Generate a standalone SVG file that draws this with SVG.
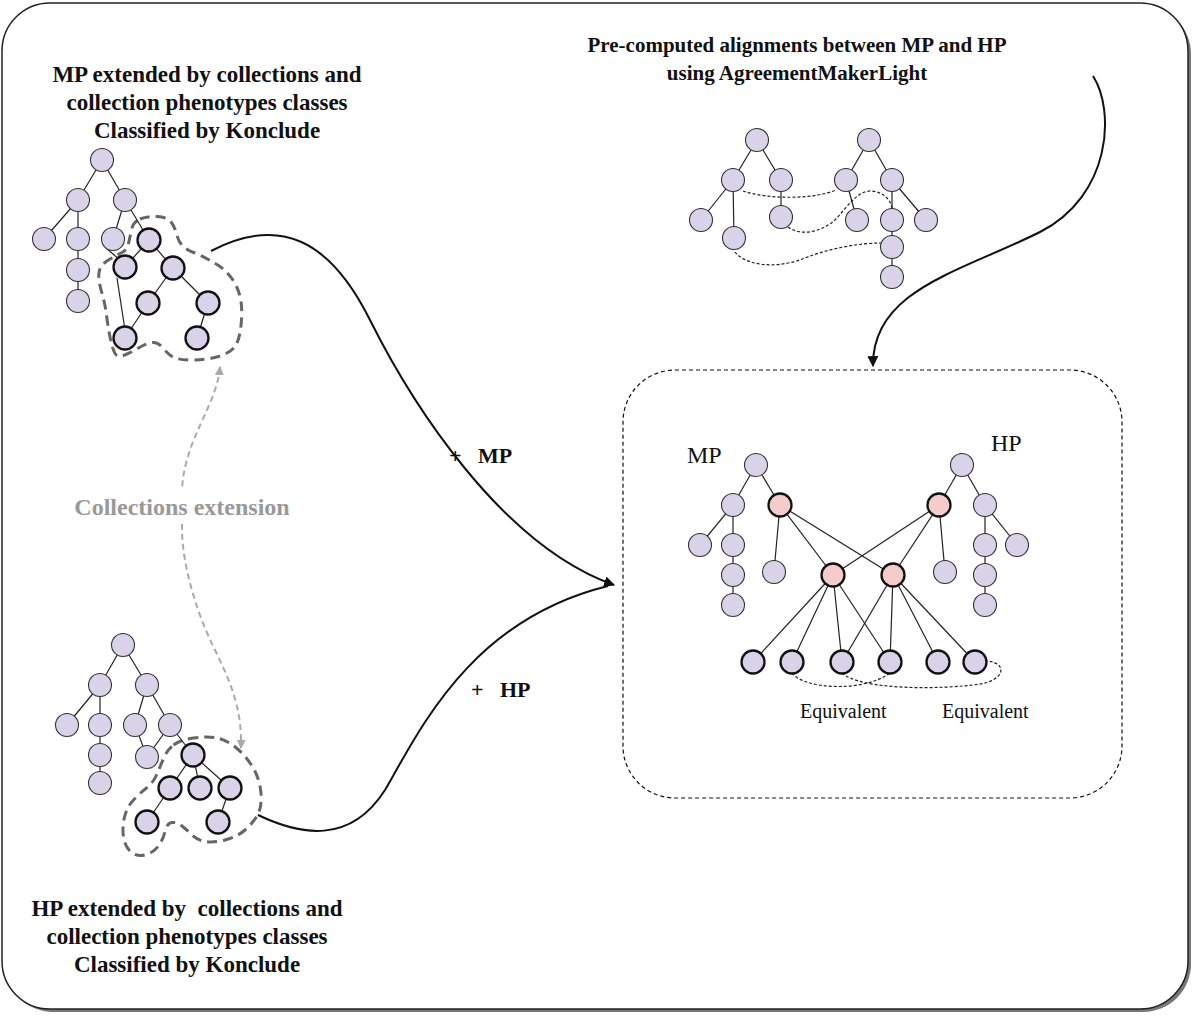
<svg xmlns="http://www.w3.org/2000/svg" width="1200" height="1019" viewBox="0 0 1200 1019">
<defs>
<style>
.n{fill:#d9d2e9;stroke:#333;stroke-width:1.1}
.b{fill:#d9d2e9;stroke:#111;stroke-width:2.3}
.p{fill:#f4cccc;stroke:#111;stroke-width:2.3}
.e{stroke:#222;stroke-width:1.2;fill:none}
.dot{stroke:#222;stroke-width:1.2;fill:none;stroke-dasharray:3 2}
.blob{stroke:#666;stroke-width:3;fill:none;stroke-dasharray:10 6}
.t{font-family:"Liberation Serif",serif;font-weight:bold;font-size:21px;fill:#111;text-anchor:middle}
.tl{font-size:23px}
.r{font-family:"Liberation Serif",serif;fill:#111}
</style>
<marker id="ah" viewBox="0 0 10 10" refX="9" refY="5" markerWidth="11" markerHeight="11" markerUnits="userSpaceOnUse" orient="auto"><path d="M0,0 L10,5 L0,10 Z" fill="#111"/></marker>
<marker id="ag" viewBox="0 0 10 10" refX="9" refY="5" markerWidth="9" markerHeight="9" markerUnits="userSpaceOnUse" orient="auto-start-reverse"><path d="M0,0 L10,5 L0,10 Z" fill="#aaa"/></marker>
</defs>
<g id="frame">
<rect x="5" y="6" width="1186" height="1006" rx="48" fill="#777"/>
<rect x="2" y="3" width="1186" height="1006" rx="48" fill="#fff" stroke="#222" stroke-width="1.5"/>
</g>
<g id="merged-panel">
<rect x="623" y="370" width="499" height="428" rx="52" fill="none" stroke="#111" stroke-width="1.2" stroke-dasharray="4 3"/>
</g>
<g id="connectors">
<path d="M 211 251 C 280 215, 330 240, 370 320 C 410 400, 500 545, 614 585" stroke="#111" stroke-width="2" fill="none" marker-end="url(#ah)"/>
<path d="M 258 815 C 300 835, 350 845, 385 790 C 420 730, 470 620, 608 586" stroke="#111" stroke-width="2" fill="none"/>
<path d="M 1093 76 C 1115 110, 1112 195, 1040 232 C 960 272, 872 290, 873 366" stroke="#111" stroke-width="2" fill="none" marker-end="url(#ah)"/>
<path d="M 220 367 C 217 405, 184 440, 182 490 M 182 524 C 181 560, 195 610, 215 650 C 232 685, 242 710, 241 748" stroke="#aaa" stroke-width="2" fill="none" stroke-dasharray="6 4" marker-start="url(#ag)" marker-end="url(#ag)"/>
</g>
<g id="mp-extended">
<path class="blob" d="M 140 219 Q 147 216 157 216.5 Q 167 217 171 222 Q 175 227 177.5 237 Q 180 247 193.5 252.5 Q 207 258 218.5 265.5 Q 230 273 236.5 286.5 Q 243 300 241.5 320 Q 240 340 235 346.5 Q 230 353 218.5 356.5 Q 207 360 192 360 Q 177 360 172 356.5 Q 167 353 162.5 347.5 Q 158 342 152.5 342.5 Q 147 343 138.5 348 Q 130 353 123.5 355.5 Q 117 358 114.5 352.5 Q 112 347 110 337 Q 108 327 106.5 315 Q 105 303 101.5 291.5 Q 98 280 99 272.5 Q 100 265 108.5 260 Q 117 255 122 252.5 Q 127 250 128.5 243.5 Q 130 237 131.5 229.5 Q 133 222 140 219 Z"/>
<g class="e">
<line x1="102" y1="160" x2="78" y2="200"/><line x1="102" y1="160" x2="125" y2="200"/>
<line x1="78" y1="200" x2="44" y2="239"/><line x1="78" y1="200" x2="78" y2="301"/>
<line x1="125" y1="200" x2="113" y2="239"/><line x1="125" y1="200" x2="149" y2="240"/>
<line x1="149" y1="240" x2="125" y2="267"/><line x1="149" y1="240" x2="173" y2="268"/>
<line x1="105" y1="247" x2="121" y2="261"/>
<line x1="173" y1="268" x2="148" y2="303"/><line x1="173" y1="268" x2="208" y2="303"/>
<line x1="117" y1="278" x2="125" y2="330"/>
<line x1="148" y1="303" x2="125" y2="338"/><line x1="208" y1="303" x2="197" y2="338"/>
</g>
<circle class="n" cx="102" cy="160" r="11.5"/>
<circle class="n" cx="78" cy="200" r="11.5"/><circle class="n" cx="125" cy="200" r="11.5"/>
<circle class="n" cx="44" cy="239" r="11.5"/><circle class="n" cx="78" cy="239" r="11.5"/><circle class="n" cx="113" cy="239" r="11.5"/>
<circle class="n" cx="78" cy="270" r="11.5"/><circle class="n" cx="78" cy="301" r="11.5"/>
<circle class="b" cx="149" cy="240" r="11.5"/><circle class="b" cx="125" cy="267" r="11.5"/><circle class="b" cx="173" cy="268" r="11.5"/>
<circle class="b" cx="148" cy="303" r="11.5"/><circle class="b" cx="208" cy="303" r="11.5"/>
<circle class="b" cx="125" cy="338" r="11.5"/><circle class="b" cx="197" cy="338" r="11.5"/>
<text class="t tl"><tspan x="207" y="82">MP extended by collections and</tspan><tspan x="207" y="110">collection phenotypes classes</tspan><tspan x="207" y="138">Classified by Konclude</tspan></text>
</g>
<g id="hp-extended">
<path class="blob" d="M 173.5 745 Q 180 740 193.5 738 Q 207 736 217 738 Q 227 740 237 748.5 Q 247 757 253.5 768.5 Q 260 780 261 793.5 Q 262 807 257.5 815 Q 253 823 245 830 Q 237 837 225 840 Q 213 843 205 841.5 Q 197 840 192 835 Q 187 830 182 826 Q 177 822 172 822.5 Q 167 823 165 831.5 Q 163 840 158 846.5 Q 153 853 145 855 Q 137 857 131 852 Q 125 847 123.5 837 Q 122 827 124.5 817 Q 127 807 133.5 800 Q 140 793 146.5 788 Q 153 783 156.5 775 Q 160 767 163.5 758.5 Q 167 750 173.5 745 Z"/>
<g class="e">
<line x1="123" y1="645" x2="100" y2="685"/><line x1="123" y1="645" x2="147" y2="685"/>
<line x1="100" y1="685" x2="67" y2="725"/><line x1="100" y1="685" x2="100" y2="783"/>
<line x1="147" y1="685" x2="135" y2="725"/><line x1="147" y1="685" x2="170" y2="725"/>
<line x1="135" y1="725" x2="147" y2="757"/><line x1="170" y1="725" x2="147" y2="757"/>
<line x1="170" y1="725" x2="193" y2="755"/>
<line x1="193" y1="755" x2="170" y2="788"/><line x1="193" y1="755" x2="200" y2="788"/><line x1="193" y1="755" x2="230" y2="788"/>
<line x1="170" y1="788" x2="147" y2="822"/><line x1="230" y1="788" x2="218" y2="822"/>
</g>
<circle class="n" cx="123" cy="645" r="11.5"/>
<circle class="n" cx="100" cy="685" r="11.5"/><circle class="n" cx="147" cy="685" r="11.5"/>
<circle class="n" cx="67" cy="725" r="11.5"/><circle class="n" cx="100" cy="725" r="11.5"/><circle class="n" cx="135" cy="725" r="11.5"/><circle class="n" cx="170" cy="725" r="11.5"/>
<circle class="n" cx="100" cy="755" r="11.5"/><circle class="n" cx="100" cy="783" r="11.5"/><circle class="n" cx="147" cy="757" r="11.5"/>
<circle class="b" cx="193" cy="755" r="11.5"/>
<circle class="b" cx="170" cy="788" r="11.5"/><circle class="b" cx="200" cy="788" r="11.5"/><circle class="b" cx="230" cy="788" r="11.5"/>
<circle class="b" cx="147" cy="822" r="11.5"/><circle class="b" cx="218" cy="822" r="11.5"/>
<text class="t tl" xml:space="preserve"><tspan x="187" y="916">HP extended by  collections and</tspan><tspan x="187" y="944">collection phenotypes classes</tspan><tspan x="187" y="972">Classified by Konclude</tspan></text>
</g>
<g id="alignments">
<g class="e">
<line x1="757" y1="140" x2="733" y2="180"/><line x1="757" y1="140" x2="781" y2="180"/>
<line x1="733" y1="180" x2="701" y2="220"/><line x1="733" y1="180" x2="734" y2="238"/>
<line x1="781" y1="180" x2="781" y2="217"/>
<line x1="869" y1="140" x2="846" y2="180"/><line x1="869" y1="140" x2="892" y2="180"/>
<line x1="846" y1="180" x2="857" y2="220"/>
<line x1="892" y1="180" x2="892" y2="277"/><line x1="892" y1="180" x2="926" y2="220"/>
</g>
<path class="dot" d="M 743 191 C 770 200, 815 199, 836 190"/>
<path class="dot" d="M 788 227 C 800 236, 820 233, 835 220 C 848 206, 858 190, 872 191 C 882 192, 890 198, 892 208"/>
<path class="dot" d="M 735 252 C 745 265, 775 270, 805 258 C 830 248, 860 243, 882 243"/>
<circle class="n" cx="757" cy="140" r="11.5"/>
<circle class="n" cx="733" cy="180" r="11.5"/><circle class="n" cx="781" cy="180" r="11.5"/>
<circle class="n" cx="701" cy="220" r="11.5"/><circle class="n" cx="734" cy="238" r="11.5"/><circle class="n" cx="781" cy="217" r="11.5"/>
<circle class="n" cx="869" cy="140" r="11.5"/>
<circle class="n" cx="846" cy="180" r="11.5"/><circle class="n" cx="892" cy="180" r="11.5"/>
<circle class="n" cx="857" cy="220" r="11.5"/><circle class="n" cx="892" cy="220" r="11.5"/><circle class="n" cx="926" cy="220" r="11.5"/>
<circle class="n" cx="892" cy="247" r="11.5"/><circle class="n" cx="892" cy="277" r="11.5"/>
<text class="t"><tspan x="797" y="52">Pre-computed alignments between MP and HP</tspan><tspan x="797" y="80">using AgreementMakerLight</tspan></text>
</g>
<g id="merged">
<g class="e">
<line x1="756" y1="465" x2="733" y2="505"/><line x1="756" y1="465" x2="780" y2="505"/>
<line x1="733" y1="505" x2="700" y2="545"/><line x1="733" y1="505" x2="733" y2="605"/>
<line x1="780" y1="505" x2="774" y2="572"/><line x1="780" y1="505" x2="833" y2="575"/><line x1="780" y1="505" x2="893" y2="575"/>
<line x1="962" y1="465" x2="939" y2="505"/><line x1="962" y1="465" x2="985" y2="505"/>
<line x1="939" y1="505" x2="945" y2="572"/><line x1="939" y1="505" x2="893" y2="575"/><line x1="939" y1="505" x2="833" y2="575"/>
<line x1="985" y1="505" x2="985" y2="605"/><line x1="985" y1="505" x2="1017" y2="545"/>
<line x1="833" y1="575" x2="753" y2="662"/><line x1="833" y1="575" x2="792" y2="662"/><line x1="833" y1="575" x2="842" y2="662"/><line x1="833" y1="575" x2="890" y2="662"/>
<line x1="893" y1="575" x2="842" y2="662"/><line x1="893" y1="575" x2="890" y2="662"/><line x1="893" y1="575" x2="938" y2="662"/><line x1="893" y1="575" x2="975" y2="662"/>
</g>
<path class="dot" d="M 792 673 C 805 690, 865 692, 890 673"/>
<path class="dot" d="M 842 673 C 860 690, 940 690, 980 684 C 1005 680, 1008 663, 987 661"/>
<circle class="n" cx="756" cy="465" r="11.5"/>
<circle class="n" cx="733" cy="505" r="11.5"/><circle class="p" cx="780" cy="505" r="11.5"/>
<circle class="n" cx="700" cy="545" r="11.5"/><circle class="n" cx="733" cy="545" r="11.5"/>
<circle class="n" cx="733" cy="575" r="11.5"/><circle class="n" cx="733" cy="605" r="11.5"/>
<circle class="n" cx="774" cy="572" r="11.5"/>
<circle class="n" cx="962" cy="465" r="11.5"/>
<circle class="p" cx="939" cy="505" r="11.5"/><circle class="n" cx="985" cy="505" r="11.5"/>
<circle class="n" cx="945" cy="572" r="11.5"/>
<circle class="n" cx="985" cy="545" r="11.5"/><circle class="n" cx="1017" cy="545" r="11.5"/>
<circle class="n" cx="985" cy="575" r="11.5"/><circle class="n" cx="985" cy="605" r="11.5"/>
<circle class="p" cx="833" cy="575" r="11.5"/><circle class="p" cx="893" cy="575" r="11.5"/>
<circle class="b" cx="753" cy="662" r="11.5"/><circle class="b" cx="792" cy="662" r="11.5"/><circle class="b" cx="842" cy="662" r="11.5"/>
<circle class="b" cx="890" cy="662" r="11.5"/><circle class="b" cx="938" cy="662" r="11.5"/><circle class="b" cx="975" cy="662" r="11.5"/>
<text class="r" x="687" y="463" font-size="24">MP</text>
<text class="r" x="991" y="451" font-size="24">HP</text>
<text class="r" x="800" y="718" font-size="20">Equivalent</text>
<text class="r" x="942" y="718" font-size="20">Equivalent</text>
</g>
<g id="labels">
<text class="t" x="182" y="515" style="fill:#999;font-size:24px">Collections extension</text>
<text class="r" x="449" y="463" font-size="22" font-weight="bold">+<tspan x="478">MP</tspan></text>
<text class="r" x="471" y="697" font-size="22" font-weight="bold">+<tspan x="500">HP</tspan></text>
</g>
</svg>
